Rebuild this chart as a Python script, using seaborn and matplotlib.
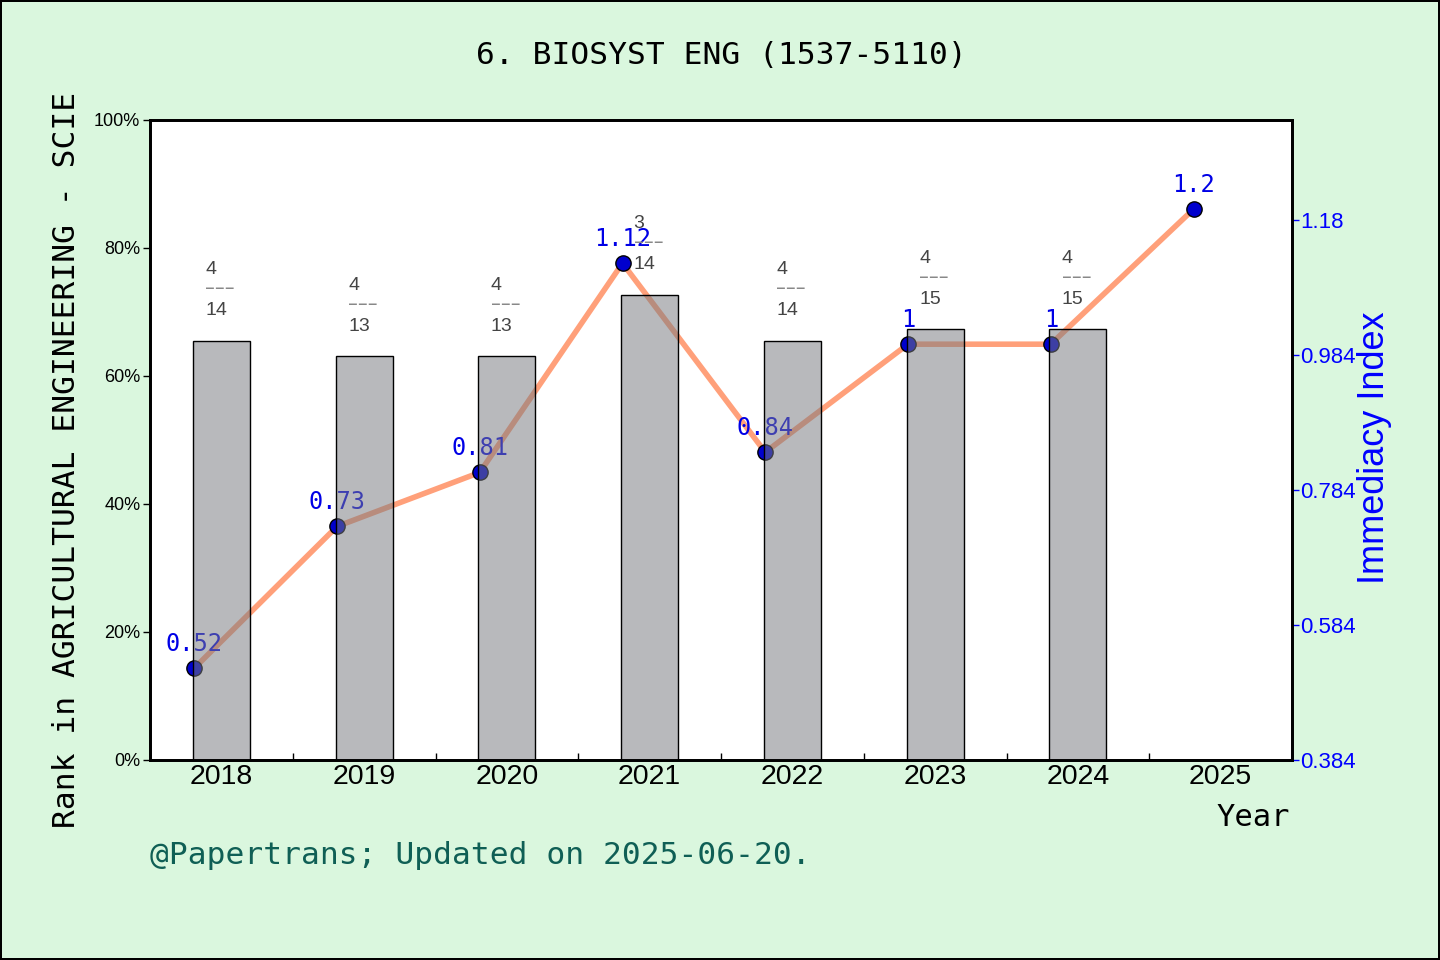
import numpy as np
import pandas as pd
import matplotlib
matplotlib.use("Agg")
import matplotlib.pyplot as plt
from matplotlib.ticker import FixedLocator, PercentFormatter
import seaborn as sns

# values
years = ['2018', '2019', '2020', '2021', '2022', '2023', '2024', '2025']
rank_pct = [0.655, 0.631, 0.631, 0.727, 0.655, 0.673, 0.673, np.nan]
rank_num = [4, 4, 4, 3, 4, 4, 4, None]
rank_tot = [14, 13, 13, 14, 14, 15, 15, None]
immediacy = [0.52, 0.73, 0.81, 1.12, 0.84, 1.0, 1.0, 1.2]
imm_labels = ['0.52', '0.73', '0.81', '1.12', '0.84', '1', '1', '1.2']
right_ticks = [0.384, 0.584, 0.784, 0.984, 1.184]
right_tick_labels = ['0.384', '0.584', '0.784', '0.984', '1.18']

BG = '#daf7de'
MONO = 'DejaVu Sans Mono'
SANS = 'Liberation Sans'

sns.set_style('white')
plt.rcParams['font.family'] = [SANS, 'DejaVu Sans']
plt.rcParams['text.color'] = 'black'
plt.rcParams['xtick.color'] = 'black'
plt.rcParams['ytick.color'] = 'black'
plt.rcParams['axes.labelcolor'] = 'black'

df = pd.DataFrame({'year': years, 'rank': rank_pct, 'imm': immediacy})
df['pos'] = np.arange(len(years)) - 0.19  # line sits a bit left of the bars

fig = plt.figure(figsize=(14.4, 9.6), dpi=100, facecolor=BG, edgecolor='black', linewidth=1.5)
ax = fig.add_axes([150 / 1440, 1 - 760 / 960, 1142 / 1440, 640 / 960])
ax2 = ax.twinx()

# immediacy line underneath the bars
sns.lineplot(data=df, x='pos', y='imm', ax=ax2, color='#ffa07a', linewidth=4,
             marker='o', markersize=11, markerfacecolor='#0000cd',
             markeredgecolor='black', markeredgewidth=1)
for x, y, t in zip(df['pos'], immediacy, imm_labels):
    ax2.annotate(t, (x, y), xytext=(0, 9), textcoords='offset points',
                 ha='center', va='bottom', color='#0000e6', fontsize=17, family=MONO)
ax2.set_ylim(0.384, 0.384 + 640 / 675)
ax2.yaxis.set_major_locator(FixedLocator(right_ticks))
ax2.set_yticklabels(right_tick_labels)
ax2.tick_params(axis='y', colors='#0000ff', labelsize=16, direction='out', length=5, width=1, pad=1)
ax2.set_ylabel('')
ax2.set_xlabel('')

# bars on top, semi transparent
ax.set_zorder(ax2.get_zorder() + 1)
ax.patch.set_visible(False)
ax2.patch.set_visible(True)
ax2.patch.set_facecolor('white')
sns.barplot(data=df, x='year', y='rank', ax=ax, color='#777a80',
            width=0.4, edgecolor='black', linewidth=1, saturation=1)
for p in ax.patches:
    p.set_facecolor((0.467, 0.478, 0.502, 0.52))
    p.set_edgecolor('black')

# rank / total labels above the bars
for i, (h, r, n) in enumerate(zip(rank_pct, rank_num, rank_tot)):
    if r is None:
        continue
    x0 = i - 0.112
    ax.text(x0, h + 0.111, str(r), ha='left', va='center', color='#444444', fontsize=14)
    ax.text(x0, h + 0.081, '\u2013\u2013\u2013', ha='left', va='center', color='#888888',
            fontsize=14, family='DejaVu Sans')
    ax.text(x0, h + 0.047, str(n), ha='left', va='center', color='#444444', fontsize=14)

ax.set_xlim(-0.5, len(years) - 0.5)
ax2.set_xlim(-0.5, len(years) - 0.5)
ax.set_ylim(0, 1)
ax.yaxis.set_major_locator(FixedLocator([0, 0.2, 0.4, 0.6, 0.8, 1.0]))
ax.yaxis.set_major_formatter(PercentFormatter(1.0, decimals=0))
ax.tick_params(axis='y', labelsize=13, direction='out', length=5, width=1, left=True, pad=2)
ax.xaxis.set_minor_locator(FixedLocator(np.arange(0.5, len(years) - 0.5, 1)))
ax.tick_params(axis='x', which='major', length=0, labelsize=20.5, pad=3)
ax.tick_params(axis='x', which='minor', direction='in', length=5, width=1, bottom=True)
ax2.tick_params(axis='x', bottom=False, labelbottom=False)
ax.set_xlabel('')
ax.set_ylabel('')

for a in (ax, ax2):
    for s in a.spines.values():
        s.set_visible(True)
        s.set_color('black')
        s.set_linewidth(2)

fig.text(721 / 1440, 1 - 56 / 960, '6. BIOSYST ENG (1537-5110)', ha='center', va='center',
         fontsize=22.5, family=MONO)
fig.text(67 / 1440, 1 - 460 / 960, 'Rank in AGRICULTURAL ENGINEERING - SCIE', rotation=90,
         ha='center', va='center', fontsize=22.5, family=MONO)
fig.text(1374 / 1440, 1 - 448 / 960, 'Immediacy Index', rotation=90, ha='center', va='center',
         fontsize=26, color='#0000ff')
fig.text(1290 / 1440, 1 - 817 / 960, 'Year', ha='right', va='center', fontsize=22, family=MONO)
fig.text(150 / 1440, 1 - 855 / 960, '@Papertrans; Updated on 2025-06-20.', ha='left', va='center',
         fontsize=22.5, family=MONO, color='#0f5f55')

fig.savefig('out.png', dpi=100, facecolor=BG, edgecolor='black')
